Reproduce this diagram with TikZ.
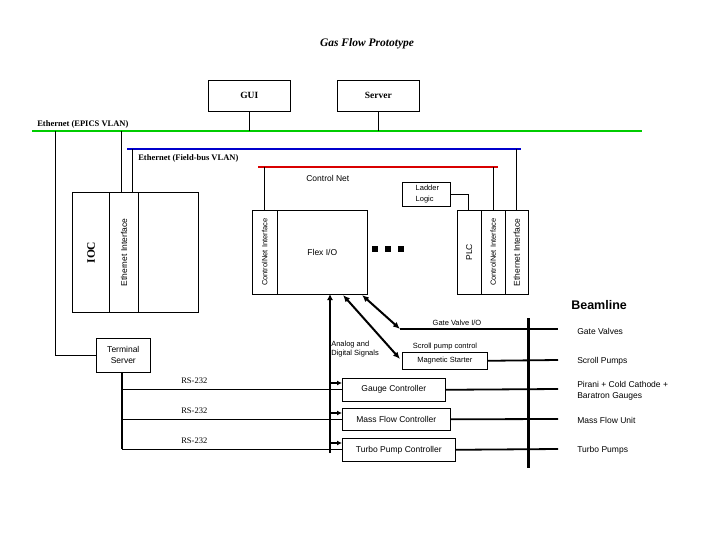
\documentclass[tikz,border=0pt]{standalone}
\usepackage{fontspec}
\setmainfont{Liberation Serif}
\newfontfamily\arialf{Liberation Sans}
\usetikzlibrary{arrows.meta}
\begin{document}
\begin{tikzpicture}[x=1pt,y=-1pt,semithick,
  box/.style={draw,inner sep=0pt,anchor=north west,font=\arialf\fontsize{9}{10}\selectfont},
  lbl/.style={font=\arialf\fontsize{8.5}{11}\selectfont,inner sep=0pt},
  slbl/.style={font=\arialf\fontsize{7.5}{9}\selectfont,inner sep=0pt},
  serl/.style={font=\bfseries\fontsize{8.5}{10}\selectfont,inner sep=0pt},
  bus/.style={line width=2.2pt},
  sig/.style={line width=1.8pt},
  darr/.style={line width=2pt,{Latex[length=7pt,width=6pt]}-{Latex[length=7pt,width=6pt]}},
  parr/.style={line width=1.6pt,-{Latex[length=5pt,width=5pt]}}]
\useasboundingbox (0,0) rectangle (720,540);

% Title and top boxes
\node[font=\bfseries\itshape\fontsize{11.5}{13}\selectfont] (title) at (367,44) {Gas Flow Prototype};
\node[box,font=\bfseries\fontsize{9.5}{11}\selectfont,minimum width=82pt,minimum height=31pt] (gui) at (208,80) {GUI};
\node[box,font=\bfseries\fontsize{9.5}{11}\selectfont,minimum width=82pt,minimum height=31pt] (server) at (337,80) {Server};

% Networks
\coordinate (gL) at (32,131); \coordinate (gR) at (642,131);
\draw[bus,green!80!black] (gL) -- (gR);
\node[serl,anchor=west] (eth1) at (37,124) {Ethernet (EPICS VLAN)};
\coordinate (bL) at (127,149); \coordinate (bR) at (521,149);
\draw[bus,blue!80!black] (bL) -- (bR);
\node[serl,anchor=west] (eth2) at (138,158) {Ethernet (Field-bus VLAN)};
\coordinate (rL) at (258,167); \coordinate (rR) at (498,167);
\draw[bus,red!85!black] (rL) -- (rR);
\node[lbl,anchor=west] (cn) at (306,178) {Control Net};

\draw (gui.south) -- (gui.south |- gL);
\draw (server.south) -- (server.south |- gL);

% IOC
\node[draw,very thick,anchor=north west,minimum width=37pt,minimum height=120pt,inner sep=0pt] (ioc) at (72,192) {};
\node[draw,very thick,anchor=north west,minimum width=29pt,minimum height=120pt,inner sep=0pt] (iocei) at (109,192) {};
\node[draw,very thick,anchor=north west,minimum width=60pt,minimum height=120pt,inner sep=0pt] (iocr) at (138,192) {};
\node[rotate=90,font=\bfseries\fontsize{11.5}{13}\selectfont] (iocl) at (ioc.center) {IOC};
\node[rotate=90,lbl] (ioceil) at (iocei.center) {Ethernet Interface};
\draw (121,192) -- (121,131);
\draw (132,192) -- (132,149);

% Flex I/O
\node[draw,anchor=north west,minimum width=25pt,minimum height=84pt,inner sep=0pt] (fcn) at (252,210) {};
\node[draw,anchor=north west,minimum width=90pt,minimum height=84pt,inner sep=0pt] (flex) at (277,210) {};
\node[rotate=90,slbl] at (fcn.center) {ControlNet Interface};
\node[lbl] at (flex.center) {Flex I/O};
\draw (264,210) -- (264,167);
\foreach \x in {372,385,398} \fill (\x,246) rectangle ++(6,6);

% PLC
\node[draw,anchor=north west,minimum width=24pt,minimum height=84pt,inner sep=0pt] (plc) at (457,210) {};
\node[draw,anchor=north west,minimum width=24pt,minimum height=84pt,inner sep=0pt] (pcn) at (481,210) {};
\node[draw,anchor=north west,minimum width=23pt,minimum height=84pt,inner sep=0pt] (pei) at (505,210) {};
\node[rotate=90,lbl] at (plc.center) {PLC};
\node[rotate=90,slbl] at (pcn.center) {ControlNet Interface};
\node[rotate=90,lbl] at (pei.center) {Ethernet Interface};
\draw (493,210) -- (493,167);
\draw (516,210) -- (516,149);
\node[box,slbl,minimum width=48pt,minimum height=24pt,align=left] (ladder) at (402,182) {\ Ladder\\[2pt]\ Logic};
\draw (ladder.east) -| (468,210);

% Terminal server
\node[box,lbl,minimum width=54pt,minimum height=34pt,align=center] (ts) at (96,338) {Terminal\\Server};
\draw (55,131) |- (ts.west);

% Controllers
\node[box,lbl,minimum width=103pt,minimum height=23pt] (gauge) at (342,378) {Gauge Controller};
\node[box,lbl,minimum width=108pt,minimum height=22pt] (mfc) at (342,408) {Mass Flow Controller};
\node[box,lbl,minimum width=113pt,minimum height=23pt] (turbo) at (342,438) {Turbo Pump Controller};
\node[box,slbl,minimum width=85pt,minimum height=17pt] (mag) at (402,352) {Magnetic Starter};
\node[slbl,anchor=south] (spc) at (445,350) {Scroll pump control};

% RS-232 lines
\draw[sig] (122,372) -- (122,449);
\foreach \y/\n in {389/gauge,419/mfc,449/turbo}{
  \draw (122,\y) -- (\n.west |- 0,\y);
  \node[font=\fontsize{8.5}{10}\selectfont,anchor=west,inner sep=0pt] at (181,\y-8) {RS-232};
}

% Signals from Flex I/O
\coordinate (fbot) at (330,294);
\draw[sig,-{Latex[length=6pt,width=6pt]}] (330,453) -- (fbot);
\foreach \y in {383,413,443} \draw[parr] (330,\y) -- (342,\y);
\node[slbl,anchor=north west,align=left] (ads) at (331,341) {Analog and\\Digital Signals};
\coordinate (gv) at (400,329);
\draw[darr] (343,295) -- (400,359);
\draw[darr] (362,295) -- (gv);
\node[slbl,anchor=south] (gvl) at (457,326) {Gate Valve I/O};

% Beamline
\draw[line width=3pt] (528,318) -- (528,468);
\node[font=\arialf\bfseries\fontsize{12.5}{14}\selectfont,anchor=west,inner sep=0pt] (bl) at (571,305) {Beamline};
\draw[sig] (gv) -- (558,329);
\draw[sig] (mag.east) -- (558,360);
\draw[sig] (gauge.east) -- (558,389);
\draw[sig] (mfc.east) -- (558,419);
\draw[sig] (turbo.east) -- (558,449);
\node[lbl,anchor=west] at (577,331) {Gate Valves};
\node[lbl,anchor=west] at (577,361) {Scroll Pumps};
\node[lbl,anchor=west,align=left] at (577,391) {Pirani + Cold Cathode +\\Baratron Gauges};
\node[lbl,anchor=west] at (577,420) {Mass Flow Unit};
\node[lbl,anchor=west] at (577,450) {Turbo Pumps};
\end{tikzpicture}
\end{document}
